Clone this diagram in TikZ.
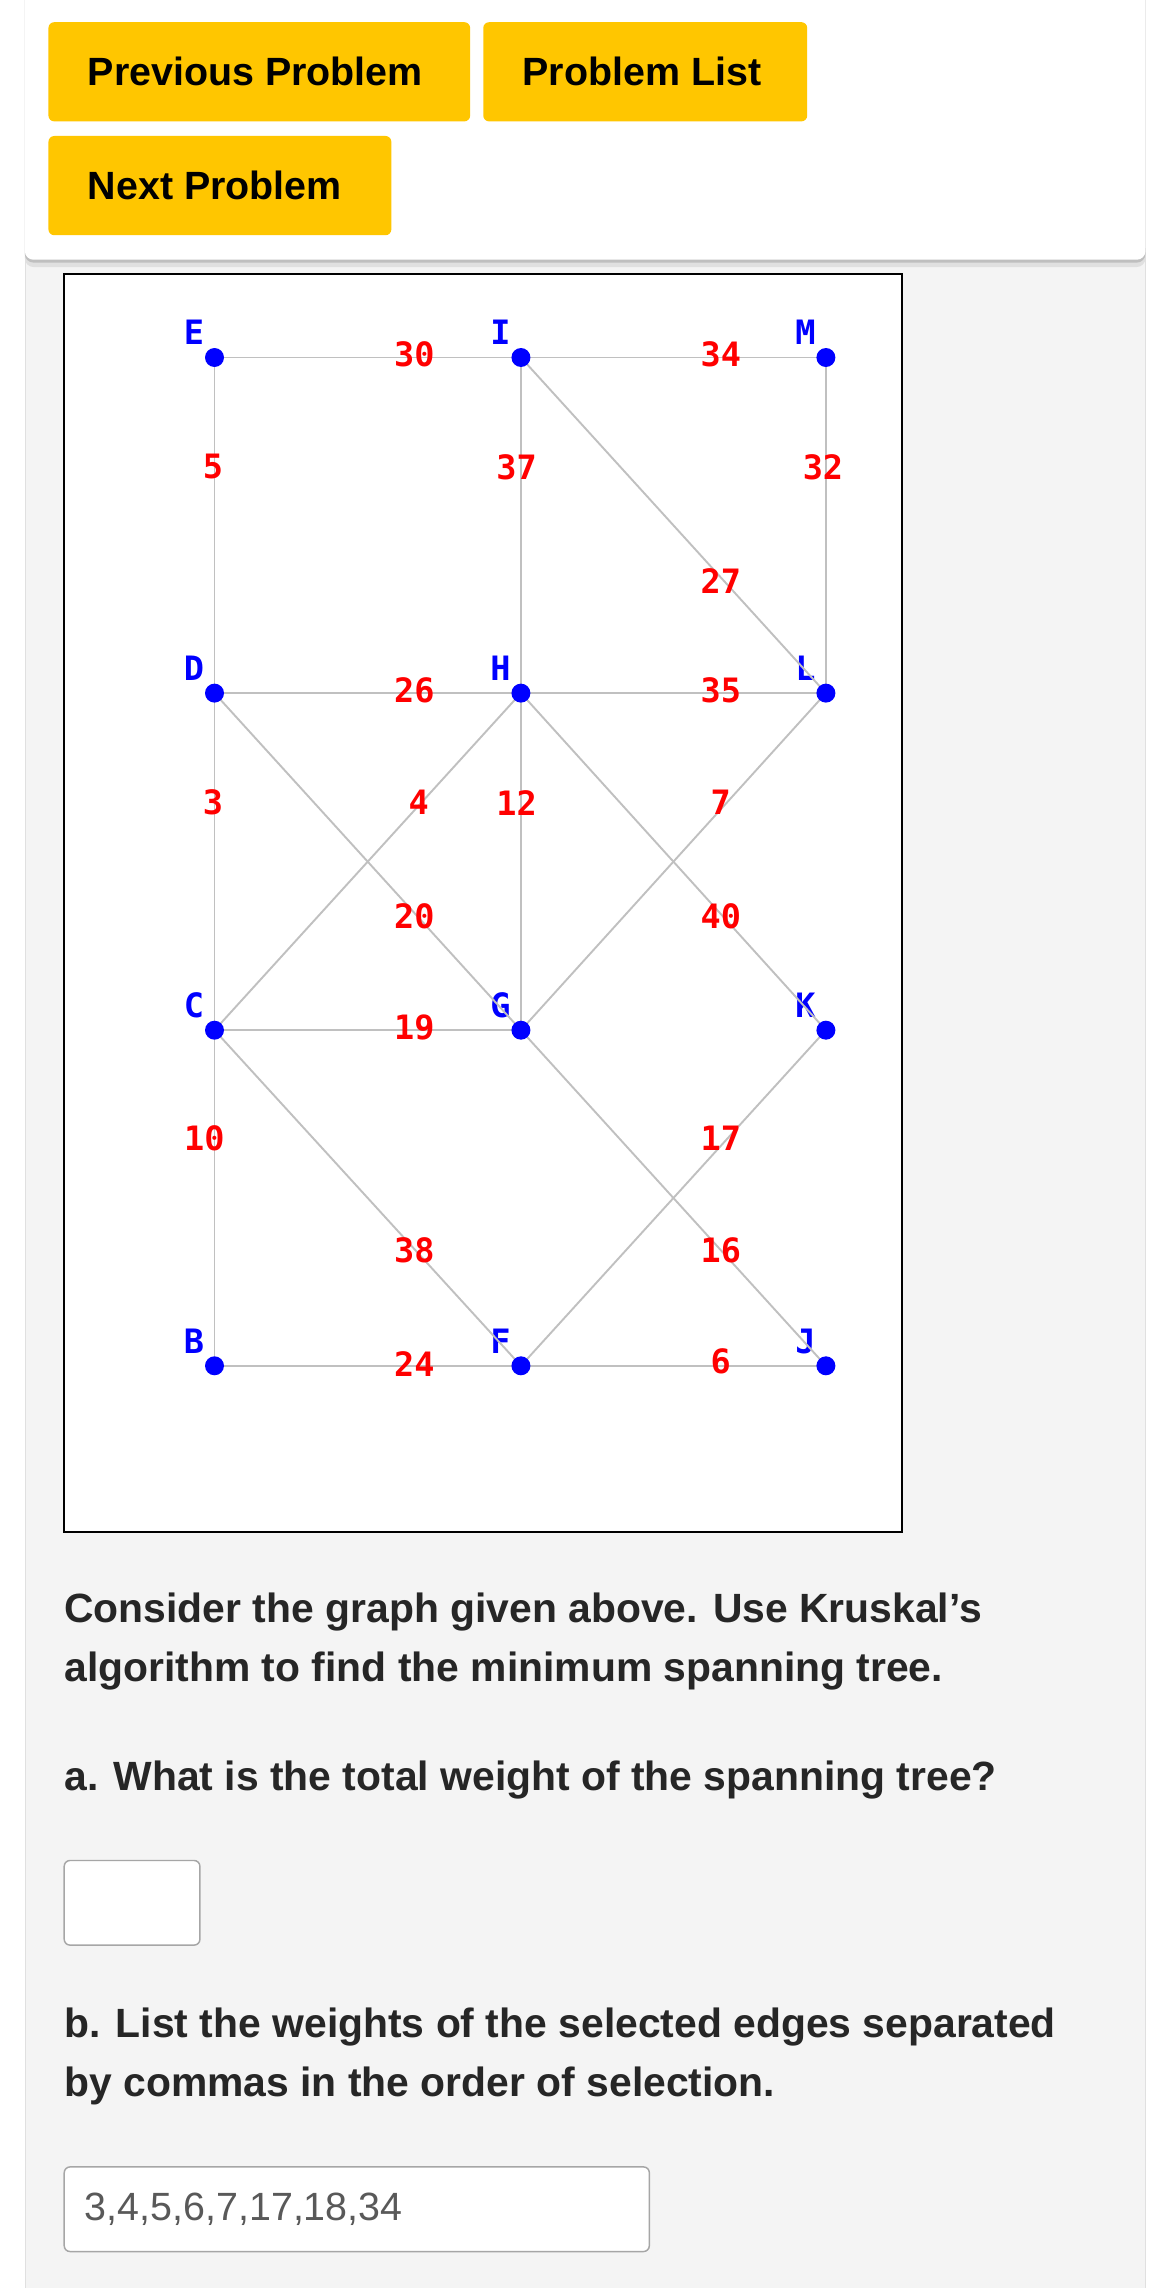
\documentclass[tikz,border=0pt]{standalone}
\usepackage{fontspec}
\setmainfont{Liberation Sans}
\newfontfamily\monof{DejaVu Sans Mono}
\definecolor{btn}{HTML}{FFC600}
\definecolor{pagebg}{HTML}{F4F4F4}
\definecolor{edgec}{HTML}{C0C0C0}
\begin{document}
\begin{tikzpicture}[x=1pt,y=-1pt,
  vtx/.style={circle,fill=blue,inner sep=0pt,minimum size=13pt},
  vlab/.style={text=blue,font=\monof\bfseries\fontsize{23}{23}\selectfont,inner sep=0pt},
  wlab/.style={text=red,font=\monof\bfseries\fontsize{23}{23}\selectfont,inner sep=0pt},
  edg/.style={draw=edgec,line width=1.3pt},
  button/.style={fill=btn,rounded corners=4pt,anchor=north west,inner sep=0pt},
  btext/.style={anchor=west,font=\bfseries\fontsize{27}{27}\selectfont,inner sep=0pt},
  body/.style={anchor=base west,font=\bfseries\fontsize{28}{28}\selectfont,inner sep=0pt,text=black!85}]
\useasboundingbox (0,0) rectangle (800,1568);
\fill[white] (0,0) rectangle (800,1568);
\fill[pagebg] (17,170) rectangle (785,1568);
\draw[black!12] (17,170) -- (17,1568) (785,170) -- (785,1568);
% header card with shadow
\fill[black!12,rounded corners=6pt] (17,-10) rectangle (785,183);
\fill[black!25,rounded corners=6pt] (17,-10) rectangle (785,180);
\fill[white,rounded corners=6pt] (17,-10) rectangle (785,178);
\node[button,minimum width=289pt,minimum height=68pt] (prev) at (33,15) {};
\node[btext] (prevt) at (60,49) {Previous Problem};
\node[button,minimum width=222pt,minimum height=68pt] (plist) at (331,15) {};
\node[btext] (plistt) at (358,49) {Problem List};
\node[button,minimum width=235pt,minimum height=68pt] (next) at (33,93) {};
\node[btext] (nextt) at (60,127) {Next Problem};
% graph frame
\draw[fill=white,line width=1.5pt] (44,188) rectangle (618,1050);
% vertices
\foreach \n/\x/\y in {E/147/245,I/357/245,M/566/245,D/147/475,H/357/475,L/566/475,C/147/706,G/357/706,K/566/706,B/147/936,F/357/936,J/566/936}{
  \coordinate (\n) at (\x,\y);
  \node[vlab] (lab\n) at (\x-14,\y-17) {\n};
}
% edges
\foreach \a/\b in {E/I,I/M,E/D,I/H,M/L,I/L,D/H,H/L,D/C,D/G,C/H,H/G,H/K,G/L,C/G,C/B,C/F,G/J,K/F,B/F,F/J}{
  \draw[edg] (\a) -- (\b);
}
\foreach \n in {E,I,M,D,H,L,C,G,K,B,F,J}{\node[vtx] (v\n) at (\n) {};}
% weights
\foreach \w/\x/\y in {30/284/243,34/494/243,5/146/320,37/354/320,32/564/320,27/494/398,26/284/473,35/494/473,3/146/550,4/287/550,12/354/550,7/494/550,20/284/628,40/494/628,19/284/704,10/140/780,17/494/780,38/284/857,16/494/857,24/284/935,6/494/933}{
  \node[wlab] (w\w) at (\x,\y) {\w};
}
% text
\node[body] (t1) at (44,1112) {Consider the graph given above. Use Kruskal's};
\node[body] (t2) at (44,1152) {algorithm to find the minimum spanning tree.};
\node[body] (t3) at (44,1227) {a. What is the total weight of the spanning tree?};
\draw[fill=white,draw=black!35,rounded corners=4pt,line width=1pt] (44,1275) rectangle (137,1333);
\node[body] (t4) at (44,1396) {b. List the weights of the selected edges separated};
\node[body] (t5) at (44,1437) {by commas in the order of selection.};
\draw[fill=white,draw=black!35,rounded corners=4pt,line width=1pt] (44,1485) rectangle (445,1543);
\node[anchor=base west,inner sep=0pt,font=\fontsize{27}{27}\selectfont,text=black!65] (ans) at (58,1522) {3,4,5,6,7,17,18,34};
\end{tikzpicture}
\end{document}
